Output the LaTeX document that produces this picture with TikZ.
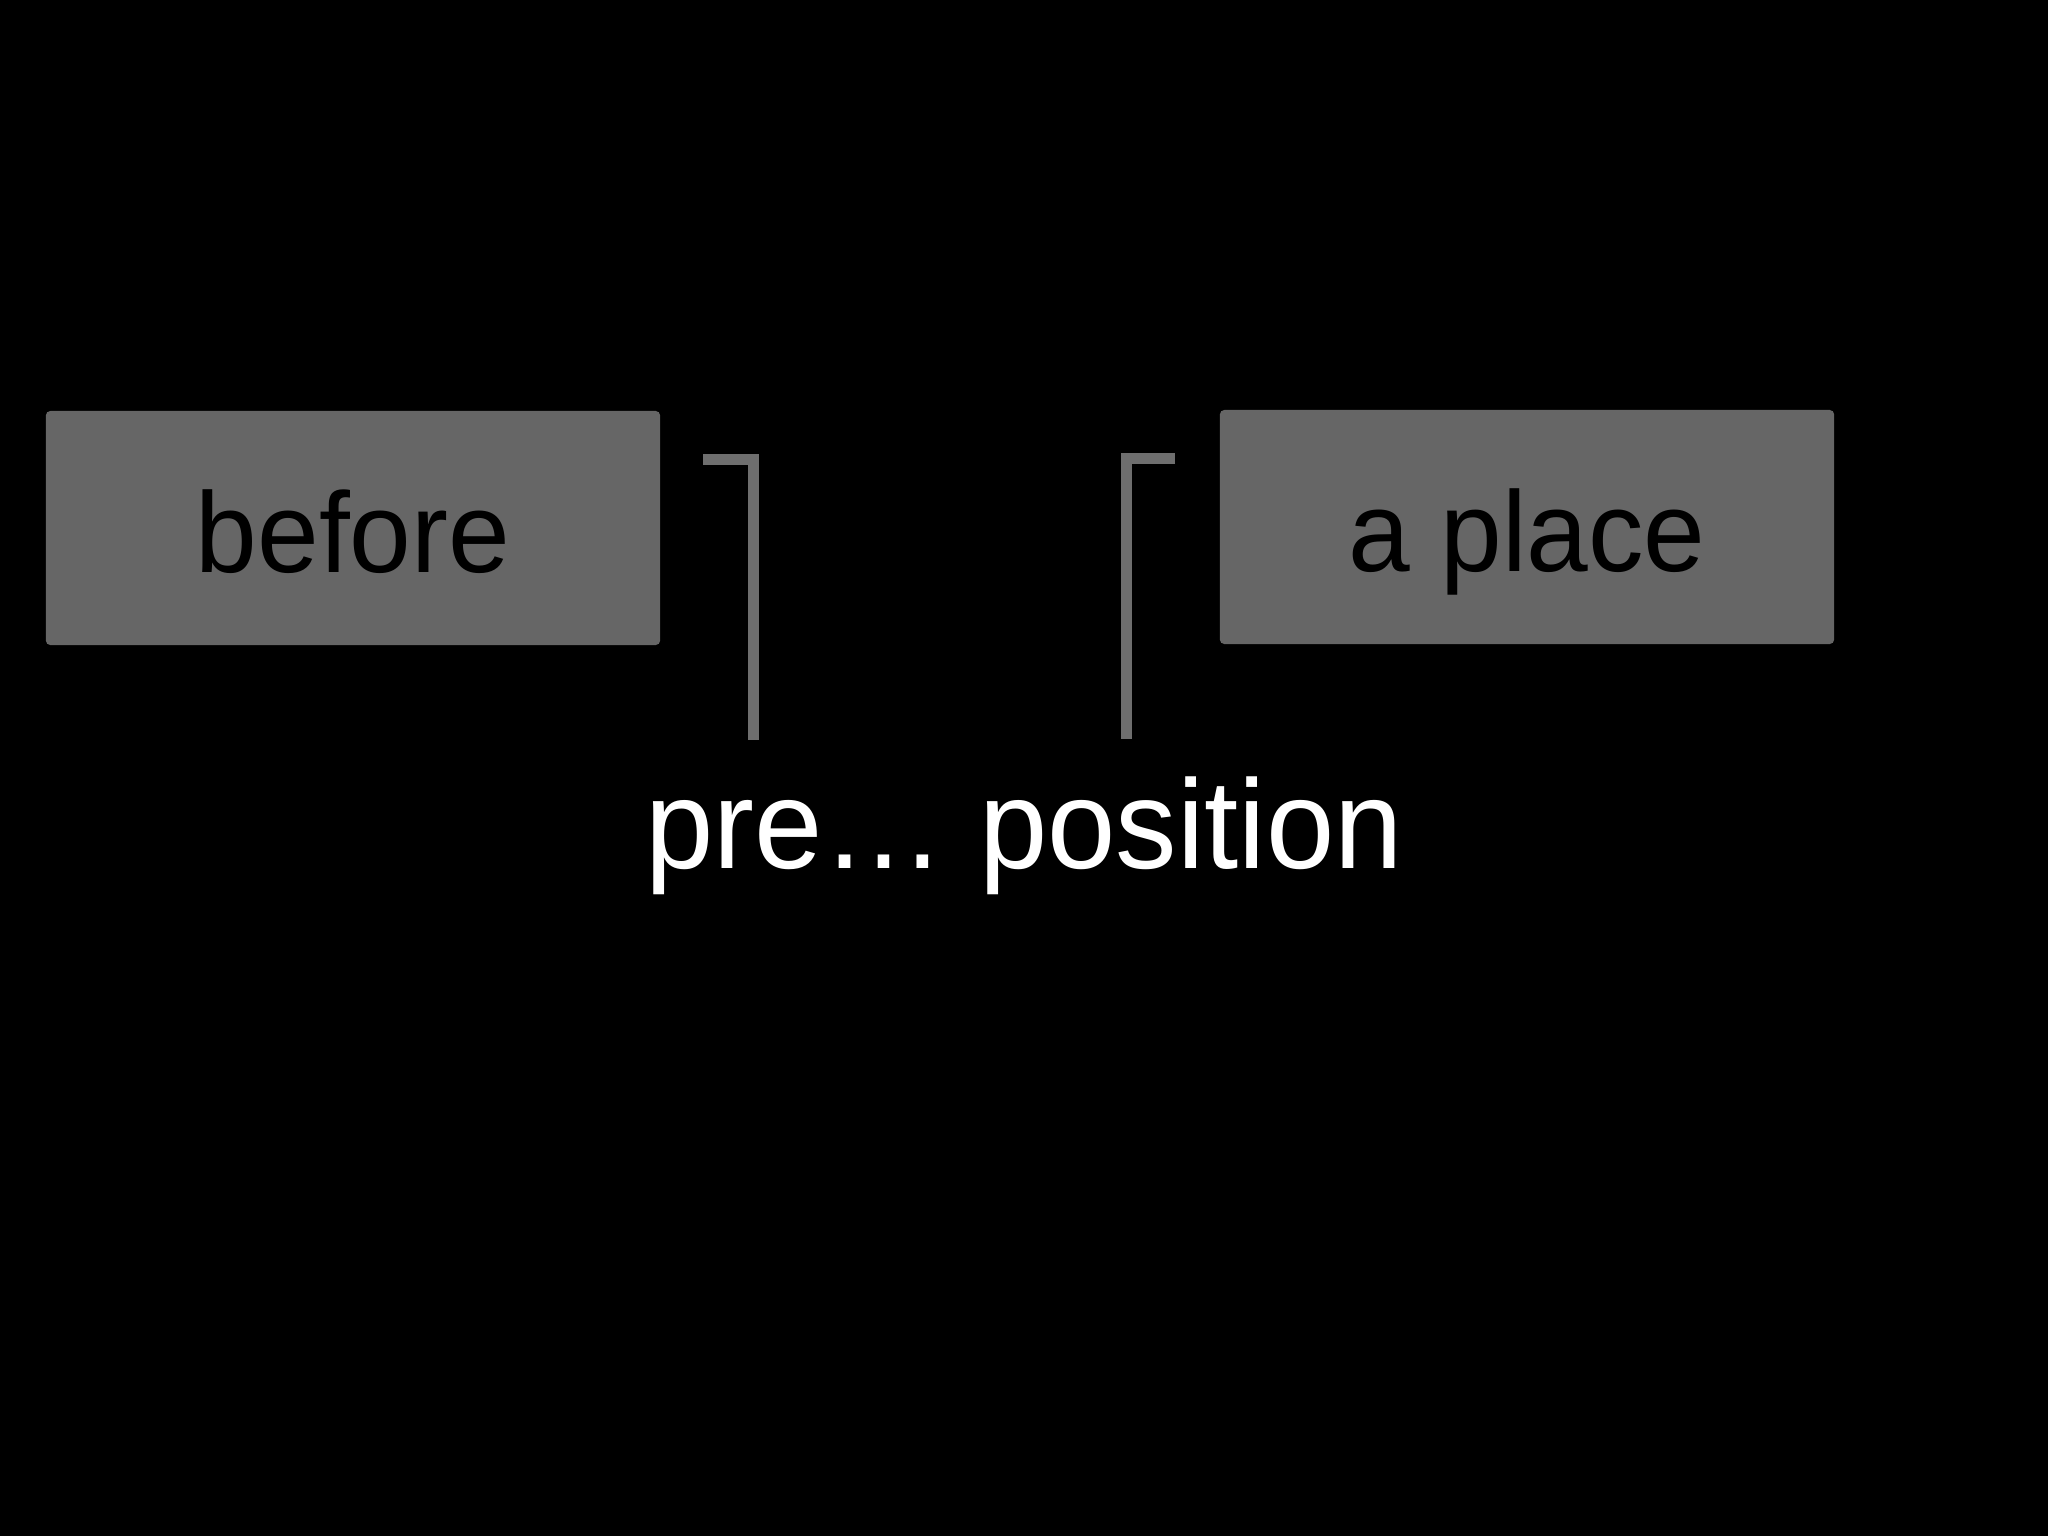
\documentclass[tikz,border=0pt]{standalone}
\usepackage{fontspec}
\usepackage{tikz}
\usetikzlibrary{calc}
\usetikzlibrary{positioning}
\setmainfont{Liberation Sans}[FakeStretch=0.97]
\definecolor{slate}{RGB}{102, 102, 102}
\definecolor{ash}{RGB}{110, 110, 110}
\tikzset{
    wordbox/.style={fill=slate, rounded corners=1.3pt, minimum width=6.14cm, minimum height=2.34cm,
                    text=black, text height=0.88cm, text depth=0pt, inner sep=0pt,
                    font=\fontsize{32.5}{38}\selectfont},
    bracket/.style={draw=ash, line width=0.11cm},
    caption/.style={text=white, anchor=base, inner sep=0pt, font=\fontsize{36}{42}\selectfont}
}

\begin{document}
\begin{tikzpicture}[x=0.01cm, y=-0.01cm]
            \fill[black] (0,0) rectangle (2048,1536);
            \useasboundingbox (0,0) rectangle (2048,1536);
            \node[wordbox] (before) at ( 353, 528) {before};
            \node[wordbox] (place)  at (1527, 527) {a place};
            \coordinate (lt) at ( 703, 459); \coordinate (lc) at ( 753, 459); \coordinate (lb) at ( 753, 740);
            \coordinate (rt) at (1175, 458); \coordinate (rc) at (1126, 458); \coordinate (rb) at (1126, 739);
            \draw[bracket] (lt) -- (lc) -- (lb);
            \draw[bracket] (rt) -- (rc) -- (rb);
            \node[caption] (word) at (1024, 868) {pre… position};
        \end{tikzpicture}
\end{document}
